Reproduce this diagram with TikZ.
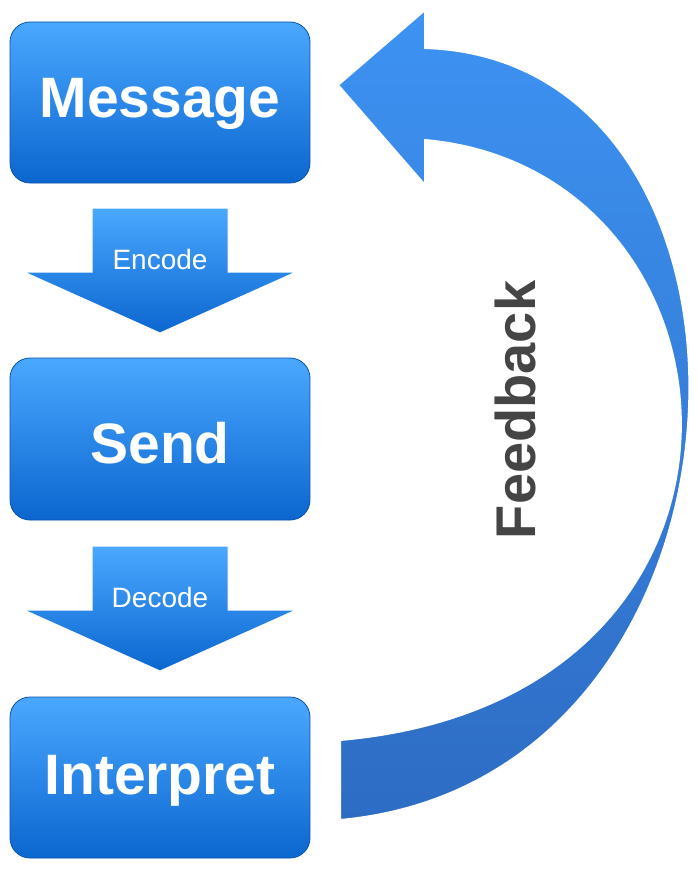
\documentclass[tikz,border=0pt]{standalone}
\usepackage{fontspec}
\setmainfont{Liberation Sans}
\usetikzlibrary{positioning,calc}
\definecolor{boxtop}{HTML}{4AA8FF}
\definecolor{boxbot}{HTML}{0B66CF}
\definecolor{fbtop}{HTML}{3D92F2}
\definecolor{fbbot}{HTML}{2E6CC4}
\definecolor{fbtext}{HTML}{454545}
\begin{document}
\begin{tikzpicture}[x=1pt,y=-1pt,
    step box/.style={rounded corners=20pt,top color=boxtop,bottom color=boxbot,
      draw=boxbot!80!black,line width=0.8pt},
    step text/.style={text=white,font=\fontsize{57}{60}\selectfont\bfseries},
    down arrow/.style={top color=boxtop,bottom color=boxbot,draw=white,line width=1pt},
    arrow label/.style={text=white,font=\fontsize{28}{30}\selectfont}
  ]
  \useasboundingbox (0,0) rectangle (697,872);
  % steps
  \draw[step box] (10,22) rectangle (310,183);
  \node[step text] (msg) at (160,104) {Message};
  \draw[step box] (10,358) rectangle (310,520);
  \node[step text] (snd) at (160,443) {Send};
  \draw[step box] (10,697) rectangle (310,858);
  \node[step text] (itp) at (160,781) {Interpret};
  % encode / decode arrows
  \foreach \y/\t in {208/Encode,546/Decode}{
    \draw[down arrow] (92,\y) -- (228,\y) -- (228,\y+64) -- (296,\y+64)
      -- (160,\y+125) -- (24,\y+64) -- (92,\y+64) -- cycle;
    \node[arrow label] at (160,\y+51) {\t};
  }
  % feedback arrow
  \draw[top color=fbtop,bottom color=fbbot,draw=white,line width=2pt]
    (340,820) .. controls (780,780) and (800,60) .. (425,48)
    -- (425,10) -- (338,85) -- (425,185) -- (425,140)
    .. controls (760,170) and (800,700) .. (340,740) -- cycle;
  \node[rotate=90,text=fbtext,font=\fontsize{56}{60}\selectfont\bfseries] (fb) at (515,410) {Feedback};
\end{tikzpicture}
\end{document}
